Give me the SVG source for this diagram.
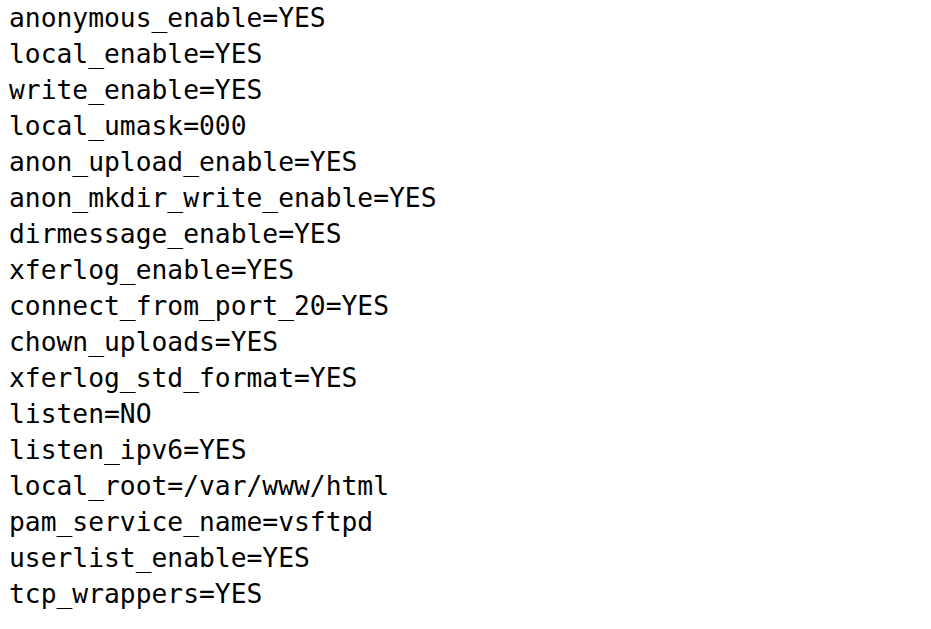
<svg xmlns="http://www.w3.org/2000/svg" width="931" height="629" viewBox="0 0 931 629">
<style>text{font-family:"DejaVu Sans Mono","Liberation Mono",monospace;font-size:26.3px;fill:#000}</style>
<rect width="931" height="629" fill="#fff"/>
<g>
<text x="9" y="27">anonymous_enable=YES</text>
<text x="9" y="63">local_enable=YES</text>
<text x="9" y="99">write_enable=YES</text>
<text x="9" y="135">local_umask=000</text>
<text x="9" y="171">anon_upload_enable=YES</text>
<text x="9" y="207">anon_mkdir_write_enable=YES</text>
<text x="9" y="243">dirmessage_enable=YES</text>
<text x="9" y="279">xferlog_enable=YES</text>
<text x="9" y="315">connect_from_port_20=YES</text>
<text x="9" y="351">chown_uploads=YES</text>
<text x="9" y="387">xferlog_std_format=YES</text>
<text x="9" y="423">listen=NO</text>
<text x="9" y="459">listen_ipv6=YES</text>
<text x="9" y="495">local_root=/var/www/html</text>
<text x="9" y="531">pam_service_name=vsftpd</text>
<text x="9" y="567">userlist_enable=YES</text>
<text x="9" y="603">tcp_wrappers=YES</text>
</g>
</svg>
